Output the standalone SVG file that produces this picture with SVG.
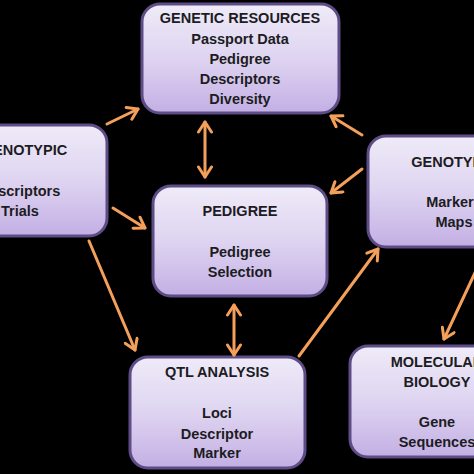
<svg xmlns="http://www.w3.org/2000/svg" width="474" height="474" viewBox="0 0 474 474">
<defs>
<linearGradient id="g" x1="0" y1="0" x2="0" y2="1">
<stop offset="0" stop-color="#efebf8"/>
<stop offset="0.5" stop-color="#ded4f1"/>
<stop offset="1" stop-color="#c3afe4"/>
</linearGradient>
<marker id="ah" markerUnits="userSpaceOnUse" markerWidth="16" markerHeight="16" viewBox="-12 -8 14 16" refX="0" refY="0" orient="auto-start-reverse">
<path d="M-10,-6.5 L0,0 L-10,6.5" fill="none" stroke="#f4a05a" stroke-width="3" stroke-linecap="round" stroke-linejoin="round"/>
</marker>
</defs>
<style>
.box{fill:url(#g);stroke:#5e4c86;stroke-width:3}
text{font-family:"Liberation Sans",Arial,sans-serif;font-weight:bold;font-size:14.5px;fill:#1c1c22;text-anchor:middle}
.c{fill:none;stroke:#f4a05a;stroke-width:3;stroke-linecap:round}
</style>
<rect width="474" height="474" fill="#000"/>
<g id="genetic-resources">
<rect class="box" x="142" y="4" width="197" height="109" rx="18"/>
<text x="240" y="23">GENETIC RESOURCES</text>
<text x="240" y="44">Passport Data</text>
<text x="240" y="64">Pedigree</text>
<text x="240" y="84">Descriptors</text>
<text x="240" y="104">Diversity</text>
</g>
<g id="phenotypic">
<rect class="box" x="-80" y="125" width="187" height="111" rx="18"/>
<text x="20" y="155">PHENOTYPIC</text>
<text x="20" y="196">Descriptors</text>
<text x="20" y="216">Trials</text>
</g>
<g id="genotypic">
<rect class="box" x="368" y="136" width="172" height="111" rx="18"/>
<text x="454" y="167">GENOTYPIC</text>
<text x="454" y="207">Markers</text>
<text x="454" y="227">Maps</text>
</g>
<g id="pedigree">
<rect class="box" x="153" y="186" width="174" height="110" rx="18"/>
<text x="240" y="216">PEDIGREE</text>
<text x="240" y="257">Pedigree</text>
<text x="240" y="277">Selection</text>
</g>
<g id="qtl-analysis">
<rect class="box" x="130" y="357" width="175" height="111" rx="18"/>
<text x="217" y="377">QTL ANALYSIS</text>
<text x="217" y="418">Loci</text>
<text x="217" y="439">Descriptor</text>
<text x="217" y="458">Marker</text>
</g>
<g id="molecular-biology">
<rect class="box" x="350" y="346" width="174" height="111" rx="18"/>
<text x="437" y="367">MOLECULAR</text>
<text x="437" y="387">BIOLOGY</text>
<text x="437" y="427">Gene</text>
<text x="437" y="447">Sequences</text>
</g>
<g id="connectors">
<line class="c" x1="107" y1="124" x2="138" y2="109" marker-end="url(#ah)"/>
<line class="c" x1="362" y1="135" x2="331" y2="116" marker-end="url(#ah)"/>
<line class="c" x1="205" y1="122" x2="205" y2="177" marker-start="url(#ah)" marker-end="url(#ah)"/>
<line class="c" x1="362" y1="169" x2="331" y2="193" marker-end="url(#ah)"/>
<line class="c" x1="113" y1="208" x2="145" y2="228" marker-end="url(#ah)"/>
<line class="c" x1="89" y1="241" x2="135" y2="350" marker-end="url(#ah)"/>
<line class="c" x1="234" y1="305" x2="234" y2="355" marker-start="url(#ah)" marker-end="url(#ah)"/>
<line class="c" x1="299" y1="356" x2="378" y2="249" marker-end="url(#ah)"/>
<line class="c" x1="480" y1="262" x2="444" y2="339" marker-end="url(#ah)"/>
</g>
</svg>
